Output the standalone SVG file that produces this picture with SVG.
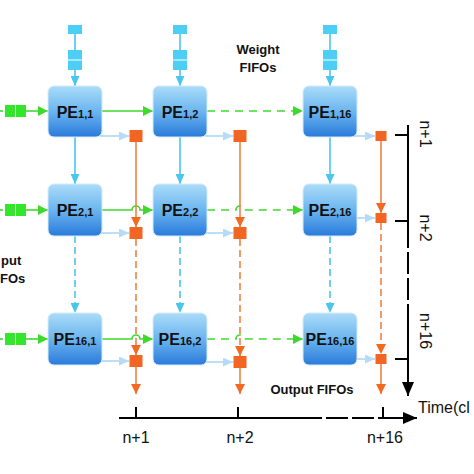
<svg xmlns="http://www.w3.org/2000/svg" width="474" height="474" viewBox="0 0 474 474">
<style>
.pe{font-family:"Liberation Sans",Arial,sans-serif;font-weight:bold;font-size:16px;fill:#111;text-anchor:middle}
.sub{font-size:11px}
.lbl{font-family:"Liberation Sans",Arial,sans-serif;font-weight:bold;font-size:13px;fill:#111}
.ax{font-family:"Liberation Sans",Arial,sans-serif;font-size:16px;fill:#111}
.box{fill:url(#bg);stroke:#d3ebfb;stroke-width:1}
.wf{fill:#4dcff5}
.gf{fill:#33e52b}
.of{fill:#f26522}
.cy{stroke:#49c6ee;stroke-width:1.6;fill:none}
.gr{stroke:#3fd92e;stroke-width:1.6;fill:none}
.or{stroke:#f07a3a;stroke-width:1.5;fill:none}
.pb{stroke:#b5dbf7;stroke-width:1.8;fill:none}
.bk{stroke:#000;stroke-width:2;fill:none}
.d{stroke-dasharray:8 6}
.od{stroke-dasharray:7 4}
</style>
<defs>
<linearGradient id="bg" x1="0" y1="0" x2="0" y2="1">
<stop offset="0" stop-color="#abdcf8"/>
<stop offset="0.5" stop-color="#6bb5ef"/>
<stop offset="1" stop-color="#2a7adb"/>
</linearGradient>
<marker id="ac" markerWidth="10" markerHeight="9" refX="10" refY="4.5" orient="auto" markerUnits="userSpaceOnUse"><path d="M0,0 L10,4.5 L0,9 z" fill="#49c6ee"/></marker>
<marker id="ag" markerWidth="10" markerHeight="10" refX="10" refY="5" orient="auto" markerUnits="userSpaceOnUse"><path d="M0,0 L10,5 L0,10 z" fill="#3fd92e"/></marker>
<marker id="ao" markerWidth="10" markerHeight="10" refX="10" refY="5" orient="auto" markerUnits="userSpaceOnUse"><path d="M0,0 L10,5 L0,10 z" fill="#f26a22"/></marker>
<marker id="ap" markerWidth="10" markerHeight="9" refX="10" refY="4.5" orient="auto" markerUnits="userSpaceOnUse"><path d="M0,0 L10,4.5 L0,9 z" fill="#b5dbf7"/></marker>
<marker id="ak" markerWidth="14" markerHeight="12" refX="14" refY="6" orient="auto" markerUnits="userSpaceOnUse"><path d="M0,0 L14,6 L0,12 z" fill="#000"/></marker>
</defs>
<rect width="474" height="474" fill="#fff"/>

<g id="connectors">
<line class="cy" x1="75" y1="34" x2="75" y2="50"/>
<line class="cy" x1="180" y1="34" x2="180" y2="50"/>
<line class="cy" x1="330" y1="34" x2="330" y2="50"/>
<line class="cy" x1="75" y1="70" x2="75" y2="86" marker-end="url(#ac)"/>
<line class="cy" x1="180" y1="70" x2="180" y2="86" marker-end="url(#ac)"/>
<line class="cy" x1="330" y1="70" x2="330" y2="86" marker-end="url(#ac)"/>
<line class="cy" x1="75" y1="137" x2="75" y2="184" marker-end="url(#ac)"/>
<line class="cy" x1="180" y1="137" x2="180" y2="184" marker-end="url(#ac)"/>
<line class="cy" x1="330" y1="137" x2="330" y2="184" marker-end="url(#ac)"/>
<line class="cy" x1="75" y1="236" x2="75" y2="313" stroke-dasharray="7 4" marker-end="url(#ac)"/>
<line class="cy" x1="180" y1="236" x2="180" y2="313" stroke-dasharray="7 4" marker-end="url(#ac)"/>
<line class="cy" x1="330" y1="236" x2="330" y2="313" stroke-dasharray="7 4" marker-end="url(#ac)"/>

<line class="gr" x1="0" y1="111" x2="3" y2="111"/>
<line class="gr" x1="0" y1="210" x2="3" y2="210"/>
<line class="gr" x1="0" y1="339" x2="3" y2="339"/>
<line class="gr" x1="26" y1="111" x2="48" y2="111" marker-end="url(#ag)"/>
<line class="gr" x1="26" y1="210" x2="48" y2="210" marker-end="url(#ag)"/>
<line class="gr" x1="26" y1="339" x2="48" y2="339" marker-end="url(#ag)"/>
<line class="gr" x1="102" y1="111" x2="153" y2="111" marker-end="url(#ag)"/>
<path class="gr" d="M102,210 H132 a4,4 0 0 1 8,0 H153" marker-end="url(#ag)"/>
<path class="gr" d="M102,339 H132 a4,4 0 0 1 8,0 H153" marker-end="url(#ag)"/>
<line class="gr d" x1="207" y1="111" x2="303" y2="111" marker-end="url(#ag)"/>
<path class="gr d" d="M207,210 H236 a4,4 0 0 1 8,0 H303" marker-end="url(#ag)"/>
<path class="gr d" d="M207,339 H236 a4,4 0 0 1 8,0 H303" marker-end="url(#ag)"/>

<line class="pb" x1="100" y1="136" x2="129" y2="136" marker-end="url(#ap)"/>
<line class="pb" x1="100" y1="233" x2="129" y2="233" marker-end="url(#ap)"/>
<line class="pb" x1="100" y1="361" x2="129" y2="361" marker-end="url(#ap)"/>
<line class="pb" x1="205" y1="136" x2="233" y2="136" marker-end="url(#ap)"/>
<line class="pb" x1="205" y1="233" x2="233" y2="233" marker-end="url(#ap)"/>
<line class="pb" x1="205" y1="362" x2="233" y2="362" marker-end="url(#ap)"/>
<line class="pb" x1="353" y1="136" x2="375" y2="136" marker-end="url(#ap)"/>
<line class="pb" x1="353" y1="218" x2="375" y2="218" marker-end="url(#ap)"/>
<line class="pb" x1="353" y1="359" x2="375" y2="359" marker-end="url(#ap)"/>

<line class="or" x1="136" y1="142" x2="136" y2="227" marker-end="url(#ao)"/>
<line class="or od" x1="136" y1="239" x2="136" y2="355" marker-end="url(#ao)"/>
<line class="or" x1="136" y1="367" x2="136" y2="394" marker-end="url(#ao)"/>
<line class="or" x1="240" y1="142" x2="240" y2="227" marker-end="url(#ao)"/>
<line class="or od" x1="240" y1="239" x2="240" y2="356" marker-end="url(#ao)"/>
<line class="or" x1="240" y1="368" x2="240" y2="394" marker-end="url(#ao)"/>
<line class="or" x1="381" y1="141" x2="381" y2="213" marker-end="url(#ao)"/>
<line class="or od" x1="381" y1="223" x2="381" y2="354" marker-end="url(#ao)"/>
<line class="or" x1="381" y1="364" x2="381" y2="394" marker-end="url(#ao)"/>
</g>

<g id="time-axis-vertical">
<line class="bk" x1="408" y1="125" x2="408" y2="226"/>
<line class="bk" x1="408" y1="226" x2="408" y2="306" stroke-dasharray="22 4"/>
<line class="bk" x1="408" y1="306" x2="408" y2="396" marker-end="url(#ak)"/>
<line class="bk" x1="395" y1="135" x2="408" y2="135"/>
<line class="bk" x1="395" y1="221" x2="408" y2="221"/>
<line class="bk" x1="395" y1="359" x2="408" y2="359"/>
<text class="ax" text-anchor="middle" transform="translate(420,134) rotate(90)">n+1</text>
<text class="ax" text-anchor="middle" transform="translate(420,228) rotate(90)">n+2</text>
<text class="ax" text-anchor="middle" transform="translate(420,331) rotate(90)">n+16</text>
</g>

<g id="time-axis-horizontal">
<line class="bk" x1="119" y1="418" x2="300" y2="418"/>
<line class="bk" x1="300" y1="418" x2="380" y2="418" stroke-dasharray="22 4"/>
<line class="bk" x1="380" y1="418" x2="417" y2="418" marker-end="url(#ak)"/>
<line class="bk" x1="136" y1="407" x2="136" y2="418"/>
<line class="bk" x1="238" y1="407" x2="238" y2="418"/>
<line class="bk" x1="383" y1="407" x2="383" y2="418"/>
<text class="ax" x="136" y="443" text-anchor="middle">n+1</text>
<text class="ax" x="240" y="443" text-anchor="middle">n+2</text>
<text class="ax" x="385" y="443" text-anchor="middle">n+16</text>
<text class="ax" x="418" y="413">Time(cl</text>
</g>

<g id="weight-fifos">
<rect class="wf" x="68" y="25" width="14" height="9"/>
<rect class="wf" x="68" y="50" width="14" height="20"/>
<line x1="68" y1="60" x2="82" y2="60" stroke="#fff" stroke-width="1"/>
<rect class="wf" x="173" y="25" width="14" height="9"/>
<rect class="wf" x="173" y="50" width="14" height="20"/>
<line x1="173" y1="60" x2="187" y2="60" stroke="#fff" stroke-width="1"/>
<rect class="wf" x="323" y="25" width="14" height="9"/>
<rect class="wf" x="323" y="50" width="14" height="20"/>
<line x1="323" y1="60" x2="337" y2="60" stroke="#fff" stroke-width="1"/>
<text class="lbl" x="258" y="54" text-anchor="middle">Weight</text>
<text class="lbl" x="258" y="72" text-anchor="middle">FIFOs</text>
</g>

<g id="input-fifos">
<rect class="gf" x="5" y="105" width="10" height="12"/>
<rect class="gf" x="16" y="105" width="10" height="12"/>
<rect class="gf" x="5" y="204" width="10" height="12"/>
<rect class="gf" x="16" y="204" width="10" height="12"/>
<rect class="gf" x="5" y="333" width="10" height="12"/>
<rect class="gf" x="16" y="333" width="10" height="12"/>
<text class="lbl" x="1" y="265">put</text>
<text class="lbl" x="0" y="283">FOs</text>
</g>

<g id="output-fifos">
<rect class="of" x="129.5" y="130" width="13" height="12"/>
<rect class="of" x="129.5" y="227" width="13" height="12"/>
<rect class="of" x="129.5" y="355" width="13" height="12"/>
<rect class="of" x="233.5" y="130" width="13" height="12"/>
<rect class="of" x="233.5" y="227" width="13" height="12"/>
<rect class="of" x="233.5" y="356" width="13" height="12"/>
<rect class="of" x="375.5" y="131" width="11" height="10"/>
<rect class="of" x="375.5" y="213" width="11" height="10"/>
<rect class="of" x="375.5" y="354" width="11" height="10"/>
<text class="lbl" x="312" y="394" text-anchor="middle">Output FIFOs</text>
</g>

<g id="pe-1-1"><rect class="box" x="48" y="86" width="54" height="51" rx="6"/><text class="pe" x="75" y="118">PE<tspan class="sub">1,1</tspan></text></g>
<g id="pe-1-2"><rect class="box" x="153" y="86" width="54" height="51" rx="6"/><text class="pe" x="180" y="118">PE<tspan class="sub">1,2</tspan></text></g>
<g id="pe-1-16"><rect class="box" x="303" y="86" width="54" height="51" rx="6"/><text class="pe" x="330" y="118">PE<tspan class="sub">1,16</tspan></text></g>
<g id="pe-2-1"><rect class="box" x="48" y="184" width="54" height="52" rx="6"/><text class="pe" x="75" y="216">PE<tspan class="sub">2,1</tspan></text></g>
<g id="pe-2-2"><rect class="box" x="153" y="184" width="54" height="52" rx="6"/><text class="pe" x="180" y="216">PE<tspan class="sub">2,2</tspan></text></g>
<g id="pe-2-16"><rect class="box" x="303" y="184" width="54" height="52" rx="6"/><text class="pe" x="330" y="216">PE<tspan class="sub">2,16</tspan></text></g>
<g id="pe-16-1"><rect class="box" x="48" y="313" width="54" height="52" rx="6"/><text class="pe" x="75" y="345">PE<tspan class="sub">16,1</tspan></text></g>
<g id="pe-16-2"><rect class="box" x="153" y="313" width="54" height="52" rx="6"/><text class="pe" x="180" y="345">PE<tspan class="sub">16,2</tspan></text></g>
<g id="pe-16-16"><rect class="box" x="303" y="313" width="54" height="52" rx="6"/><text class="pe" x="330" y="345">PE<tspan class="sub">16,16</tspan></text></g>
</svg>
